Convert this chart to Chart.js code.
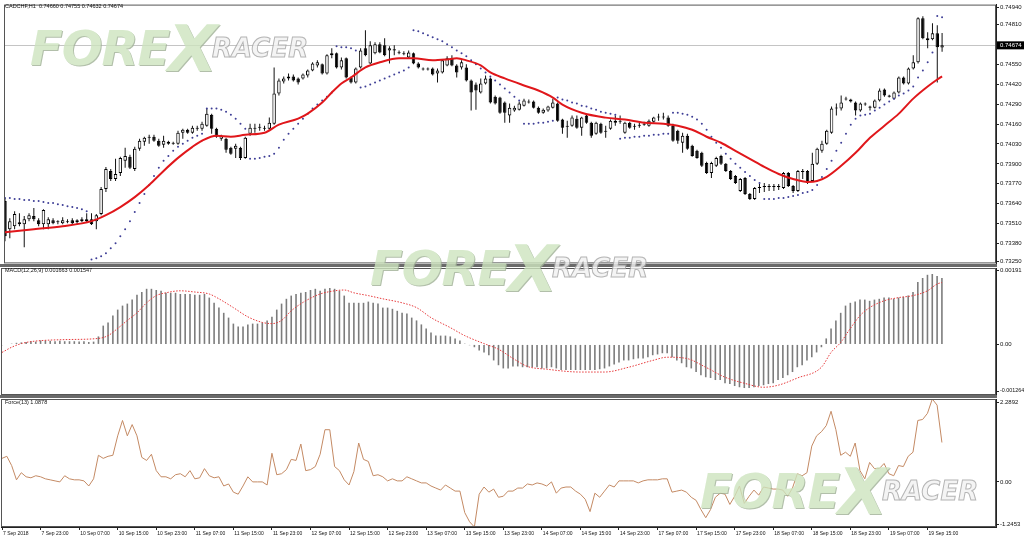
<!DOCTYPE html>
<html>
<head>
<meta charset="utf-8">
<title>CADCHF,H1</title>
<script src="https://cdn.jsdelivr.net/npm/chart.js@4.4.1/dist/chart.umd.min.js"></script>
<style>
  html, body { margin: 0; padding: 0; background: #fff; }
  #stage { position: relative; width: 1024px; height: 541px; overflow: hidden; background: #fff; font-family: "Liberation Sans", Arial, sans-serif; }
  #stage canvas { position: absolute; left: 0; }
  .cap { position: absolute; left: 5px; font-size: 5.5px; line-height: 6px; color: #111; white-space: pre; }
  .sep { position: absolute; left: 0; width: 997px; height: 3px; background: #6a6a6a; }
  .wm { position: absolute; width: 320px; height: 60px; opacity: .8; pointer-events: none;
        font-family: "DejaVu Sans", sans-serif; font-weight: bold; font-style: italic; white-space: nowrap; line-height: 1; }
  .wm span { position: absolute; top: 0; }
  .wm .fore { left: 0; font-size: 48px; color: #cde4bf; text-shadow: 1px 1px 0 #9fb095; letter-spacing: -1px; }
  .wm .ex { left: 138px; top: -7px; font-size: 64px; color: #cde4bf; text-shadow: 1px 1px 0 #9fb095; }
  .wm .racer { left: 182px; top: 10.6px; font-size: 26px; color: #f2f2f2; -webkit-text-stroke: 1px #a3a3a3; }
</style>
</head>
<body>
<div id="stage">
  <canvas id="main" width="1024" height="268" style="top:0"></canvas>
  <canvas id="macd" width="1024" height="138" style="top:262px"></canvas>
  <canvas id="force" width="1024" height="148" style="top:393px"></canvas>
  <div class="sep" style="top:264px"></div>
  <div class="sep" style="top:395px"></div>

  <div class="wm" style="left:30px;top:24px"><span class="fore">FORE</span><span class="ex">X</span><span class="racer">RACER</span></div>
  <div class="wm" style="left:370px;top:244px"><span class="fore">FORE</span><span class="ex">X</span><span class="racer">RACER</span></div>
  <div class="wm" style="left:700px;top:467px"><span class="fore">FORE</span><span class="ex">X</span><span class="racer">RACER</span></div>

  <div class="cap" style="top:3px">CADCHF,H1  0.74660 0.74755 0.74632 0.74674</div>
  <div class="cap" style="top:267px">MACD(12,26,9) 0.001663 0.001547</div>
  <div class="cap" style="top:399px">Force(13) 1.0878</div>
</div>

<script>
// ── price data, in points (0.00001) ─────────────────────────
const OPEN = [
  73657,73473,73493,73506,73506,73539,73559,73532,73506,73506,
  73532,73526,73513,73519,73532,73519,73526,73526,73539,73526,
  73572,73736,73854,73801,73841,73920,73946,73867,73998,74044,
  74070,74077,74051,74024,74044,74031,74031,74103,74123,74103,
  74136,74129,74149,74221,74129,74064,74064,74005,73998,74005,
  73939,74097,74129,74136,74136,74129,74162,74359,74438,74458,
  74471,74458,74458,74477,74510,74543,74550,74490,74609,74622,
  74530,74589,74464,74431,74530,74655,74556,74622,74681,74674,
  74641,74648,74628,74622,74595,74622,74556,74523,74517,74523,
  74490,74497,74543,74589,74543,74530,74530,74445,74418,74366,
  74425,74458,74339,74333,74300,74215,74248,74254,74280,74307,
  74307,74267,74234,74248,74267,74294,74189,74143,74149,74195,
  74136,74215,74169,74097,74162,74110,74129,74169,74182,74103,
  74169,74143,74149,74156,74149,74175,74202,74208,74202,74149,
  74116,74038,74083,74018,73985,73972,73906,73841,73887,73952,
  73900,73854,73821,73723,73808,73703,73670,73742,73749,73755,
  73749,73755,73742,73841,73755,73723,73847,73854,73788,73900,
  73985,74031,74103,74261,74261,74320,74320,74300,74248,74287,
  74274,74267,74313,74385,74346,74326,74366,74464,74425,74523,
  74563,74851,74707,74714,74753,74660
];
const HIGH = [
  73677,73545,73591,73578,73559,73578,73611,73545,73604,73552,
  73545,73532,73552,73539,73545,73539,73552,73578,73578,73572,
  73749,73880,73867,73933,73946,74005,73959,74011,74064,74077,
  74090,74090,74064,74083,74051,74044,74116,74129,74129,74149,
  74149,74175,74261,74228,74136,74090,74070,74011,74031,74011,
  74077,74162,74162,74162,74149,74202,74530,74458,74471,74490,
  74484,74464,74490,74517,74563,74576,74556,74615,74655,74628,
  74595,74595,74471,74530,74655,74773,74700,74694,74694,74720,
  74668,74674,74641,74635,74641,74628,74563,74530,74530,74530,
  74523,74582,74602,74609,74550,74576,74550,74451,74431,74458,
  74477,74464,74346,74339,74307,74294,74280,74307,74326,74320,
  74313,74274,74261,74280,74326,74300,74195,74182,74215,74215,
  74208,74228,74175,74175,74169,74149,74189,74215,74215,74175,
  74175,74162,74169,74175,74189,74208,74228,74234,74215,74162,
  74123,74103,74097,74024,73992,73979,73913,73913,73946,73959,
  73906,73860,73827,73808,73814,73710,73749,73768,73775,73768,
  73768,73768,73847,73847,73762,73860,73867,73860,73972,74005,
  74051,74123,74274,74294,74346,74339,74326,74307,74300,74300,
  74280,74320,74392,74392,74352,74372,74471,74471,74530,74609,
  74858,74864,74760,74819,74805,74755
];
const LOW = [
  73395,73414,73473,73493,73355,73526,73526,73493,73473,73473,
  73506,73506,73506,73513,73506,73506,73519,73519,73500,73473,
  73565,73716,73788,73788,73821,73874,73867,73854,73985,74018,
  74031,74044,74011,74005,74024,74024,74024,74064,74096,74096,
  74116,74116,74143,74097,74070,74051,73972,73959,73939,73926,
  73933,74083,74103,74116,74116,74123,74156,74346,74425,74445,
  74438,74418,74451,74464,74504,74530,74484,74484,74589,74523,
  74517,74458,74425,74425,74523,74602,74550,74615,74622,74602,
  74556,74609,74615,74609,74589,74550,74523,74510,74510,74477,
  74431,74490,74537,74537,74464,74517,74438,74248,74254,74359,
  74418,74294,74287,74228,74169,74169,74241,74248,74274,74294,
  74261,74228,74228,74241,74261,74175,74097,74070,74143,74129,
  74083,74162,74070,74090,74097,74070,74123,74149,74162,74097,
  74129,74123,74136,74149,74143,74169,74182,74189,74143,74044,
  74031,73972,73992,73946,73933,73880,73834,73808,73880,73893,
  73847,73795,73768,73716,73696,73664,73664,73710,73716,73723,
  73723,73729,73736,73749,73710,73716,73801,73768,73782,73893,
  73972,74024,74097,74215,74248,74313,74300,74215,74241,74280,
  74248,74261,74307,74339,74333,74320,74359,74418,74418,74517,
  74556,74714,74655,74707,74431,74632
];
const CLOSE = [
  73427,73526,73572,73519,73539,73565,73539,73506,73598,73539,
  73513,73519,73532,73526,73513,73532,73539,73539,73506,73565,
  73736,73867,73801,73834,73939,73952,73874,73998,74051,74070,
  74077,74051,74018,74051,74031,74038,74103,74123,74103,74136,
  74129,74162,74228,74129,74077,74083,73992,73966,74018,73939,
  74070,74136,74136,74143,74129,74169,74359,74445,74458,74471,
  74445,74431,74484,74510,74556,74563,74490,74609,74622,74530,
  74576,74464,74431,74523,74641,74609,74674,74681,74628,74609,
  74655,74641,74622,74615,74628,74556,74530,74517,74523,74484,
  74510,74576,74589,74543,74497,74563,74445,74366,74379,74425,
  74458,74300,74294,74234,74234,74267,74267,74294,74313,74300,
  74267,74234,74254,74274,74300,74182,74136,74149,74202,74136,
  74202,74169,74083,74169,74103,74116,74182,74182,74175,74169,
  74136,74149,74156,74162,74182,74202,74208,74202,74149,74051,
  74051,74083,73998,73952,73939,73887,73841,73906,73939,73900,
  73854,73801,73775,73801,73703,73670,73742,73749,73755,73749,
  73755,73749,73841,73755,73723,73854,73854,73775,73900,73998,
  74031,74116,74261,74267,74300,74326,74307,74248,74294,74294,
  74267,74313,74379,74346,74339,74366,74464,74425,74523,74563,
  74851,74720,74720,74753,74661,74674
];

// moving average (red), read at these bars
const MA_BARS = [0,6,12,18,21,24,27,30,33,36,39,41,44,47,50,54,57,61,63,66,68,70,72,75,78,82,85,89,92,94,
  96,99,101,104,108,111,114,116,120,125,129,133,137,140,143,146,149,152,155,158,161,164,167,169,171,174,177,180,183,186,
  189,192,194,195];
const MA_VALUES = [73453,73473,73493,73526,73565,73618,73683,73762,73854,73939,74011,74051,74083,74077,74090,74103,74156,74195,74228,74300,
  74366,74425,74464,74530,74563,74589,74589,74576,74582,74589,74576,74543,74497,74458,74412,74379,74333,74287,74234,74202,
  74189,74169,74162,74149,74123,74077,74038,73985,73933,73880,73834,73801,73782,73788,73815,73887,73972,74070,74149,74228,
  74326,74405,74451,74471];

// parabolic SAR, one dot per bar
const SAR = [
  73677,73677,73670,73670,73664,73664,73657,73657,73651,73644,
  73644,73637,73631,73624,73618,73611,73604,73591,
  73276,73283,73296,73316,73349,73382,73427,73473,73526,73585,
  73644,73703,73762,73821,73874,73920,73952,73985,74011,74031,74051,74070,74083,74097,
  74261,74261,74261,74254,74241,74221,74195,74162,74129,
  73933,73933,73939,73946,73952,73966,74005,74057,74097,74129,74162,74195,74228,74261,74287,74313,74339,74366,
  74668,74661,74661,74655,74641,
  74399,74405,74418,74431,74445,74458,74471,74484,74497,74510,74530,
  74773,74766,74753,74740,74727,74714,74700,74681,74661,74641,74622,74602,74576,74550,74523,74497,74471,74445,74418,74392,74366,74339,74313,
  74162,74162,74162,74169,74169,74175,74182,
  74333,74320,74313,74300,74294,74280,74274,74261,74254,74241,74234,74228,74221,
  74064,74070,74070,74077,74077,74083,74083,74090,74090,74097,74097,
  74234,74234,74228,74221,74208,74189,74162,74123,74077,74038,74005,73966,73933,73900,73874,73847,73821,73795,73775,
  73670,73670,73670,73677,73677,73683,73690,73696,73710,73716,73729,73762,73815,73867,73920,73985,74038,74097,74156,74195,
  74215,74221,74228,74248,74267,74287,74307,74326,74346,74359,74379,74405,74464,74510,74563,74628,
  74865,74858
];

const PRICE_TICKS = [74940,74810,74550,74420,74290,74160,74030,73900,73770,73640,73510,73380,73250];

// ── MACD(12,26,9) ──────────────────────────────────────────
const MACD_MAIN = [
  -0.00002,0,0.00002,0.00004,0.00005,0.00006,0.00008,0.00007,0.0001,0.0001,
  0.00009,0.00008,0.00009,0.00008,0.00008,0.00008,0.00007,0.00008,0.00006,0.00007,
  0.0002,0.00047,0.00055,0.00072,0.00087,0.00097,0.00102,0.00112,0.00124,0.00131,
  0.00139,0.00139,0.00136,0.00134,0.00129,0.00129,0.00129,0.00126,0.00126,0.00126,
  0.00124,0.00124,0.00126,0.00117,0.00104,0.00092,0.00079,0.00067,0.00052,0.00045,
  0.00045,0.0005,0.00052,0.00052,0.00055,0.0006,0.00069,0.00087,0.00102,0.00114,
  0.00122,0.00126,0.00129,0.00131,0.00136,0.00139,0.00134,0.00139,0.00141,0.00139,
  0.00134,0.00122,0.00104,0.00104,0.00104,0.00104,0.00107,0.00104,0.00102,0.00092,
  0.00092,0.00089,0.00084,0.00079,0.00077,0.00067,0.0006,0.0005,0.0004,0.0003,
  0.00022,0.00022,0.00022,0.0002,0.00015,0.0001,0.00002,-0.00002,-0.00007,-0.00015,
  -0.0002,-0.00027,-0.0004,-0.00052,-0.0006,-0.0006,-0.00055,-0.00055,-0.00057,-0.00057,
  -0.00057,-0.00057,-0.0006,-0.0006,-0.00057,-0.0006,-0.00064,-0.00064,-0.00064,-0.00064,
  -0.00064,-0.00064,-0.00064,-0.00064,-0.00062,-0.0006,-0.00055,-0.0005,-0.00045,-0.0004,
  -0.0004,-0.00037,-0.00035,-0.00035,-0.00032,-0.00027,-0.00025,-0.00022,-0.00022,-0.00032,
  -0.0004,-0.00047,-0.00057,-0.0006,-0.00069,-0.00077,-0.00082,-0.00084,-0.00089,-0.00089,
  -0.00097,-0.00099,-0.00104,-0.00107,-0.00109,-0.00109,-0.00107,-0.00104,-0.00102,-0.00099,
  -0.00097,-0.00089,-0.00084,-0.00077,-0.00069,-0.00057,-0.00052,-0.0004,-0.00032,-0.0002,
  -0.00007,0.00015,0.0004,0.0006,0.00079,0.00097,0.00104,0.00107,0.00112,0.00112,
  0.00109,0.00112,0.00114,0.00117,0.00117,0.00114,0.00117,0.00119,0.00122,0.00131,
  0.00156,0.00166,0.00174,0.00176,0.00171,0.001663
];
const SIGNAL_BARS = [0,2,4,6,13,20,22,24,26,28,30,32,34,37,40,43,45,48,51,54,56,58,60,63,66,69,71,73,76,79,
  83,86,89,93,96,100,103,106,109,113,120,125,130,135,138,142,146,150,154,158,161,165,170,172,174,176,178,180,183,186,
  189,192,194,195];
const SIGNAL_VALUES = [-0.0002,-0.00007,0.00002,0.00007,0.00012,0.00015,0.00022,0.0004,0.0006,0.00079,
  0.00104,0.00122,0.00129,0.00134,0.00131,0.00126,0.00114,0.00092,0.00069,0.00055,
  0.00052,0.0006,0.00084,0.00109,0.00126,0.00134,0.00136,0.00129,0.00122,0.00114,
  0.00104,0.00092,0.00067,0.00042,0.00022,0.00002,-0.00012,-0.00035,-0.00055,-0.00062,
  -0.00069,-0.00069,-0.00057,-0.0004,-0.00032,-0.00035,-0.00057,-0.00082,-0.00097,-0.00107,
  -0.00102,-0.00084,-0.00057,-0.0002,0.00005,0.0004,0.00072,0.00092,0.00109,0.00117,
  0.00122,0.00134,0.00151,0.001547];
const MACD_TICKS = [0.00191, 0, -0.001264];

// ── Force(13) ──────────────────────────────────────────────
const FORCE = [
  0.650,0.707,0.452,0.057,0.254,0.141,0.113,0.170,0.141,0.085,
  0.057,0.028,0,0.170,0.085,0.057,0.057,0.028,-0.113,0.085,
  0.735,0.650,0.707,0.735,1.272,1.696,1.272,1.583,1.272,0.678,
  0.593,0.763,0.311,0.141,0.141,0.085,0.198,0.226,0.141,0.311,
  0.085,0.113,0.367,0.170,0.113,0.141,-0.113,-0.057,-0.283,-0.339,
  -0.113,0.141,0,0,0,-0.085,0.791,0.198,0.226,0.339,
  0.622,0.593,1.046,0.311,0.339,0.424,0.763,1.441,1.441,0.424,
  0.311,0.057,-0.085,0.283,1.074,0.622,0.565,0.170,0.198,0.141,
  0.028,0.085,0.028,0.028,0.141,0.085,0.028,-0.028,-0.028,-0.113,
  -0.170,-0.226,-0.085,-0.170,-0.254,-0.254,-0.848,-1.100,-1.2453,-0.339,
  -0.141,-0.283,-0.198,-0.424,-0.396,-0.254,-0.254,-0.170,-0.170,-0.057,
  -0.085,-0.028,-0.057,-0.113,0,-0.311,-0.170,-0.141,-0.141,-0.254,
  -0.339,-0.480,-0.820,-0.311,-0.424,-0.254,-0.085,-0.141,0.028,0.028,
  0.028,0.028,-0.028,0.028,0.057,0.057,0.057,0.085,0.085,-0.283,
  -0.254,-0.226,-0.283,-0.424,-0.509,-0.763,-0.989,-0.763,-0.424,-0.311,
  -0.339,-0.622,-0.396,-0.113,-0.593,-0.396,-0.226,-0.367,-0.141,-0.170,
  -0.198,-0.198,-0.226,-0.396,-0.170,0.226,0.170,0.254,0.989,1.272,
  1.385,1.554,1.950,1.441,0.735,0.820,0.707,1.074,0.311,0.085,
  0.537,0.367,0.367,0.509,0.226,0.170,0.452,0.424,0.707,0.820,
  1.696,1.724,1.893,2.2892,2.120,1.0878
];
const FORCE_TICKS = [2.2892, 0, -1.2453];

// time axis: one label every 8 hourly bars
const TIME_BARS = [0,8,16,24,32,40,48,56,64,72,80,88,96,104,112,120,128,136,144,152,160,168,176,184,192];
const TIME_LABELS = ['7 Sep 2018','7 Sep 23:00','10 Sep 07:00','10 Sep 15:00','10 Sep 23:00','11 Sep 07:00','11 Sep 15:00',
  '11 Sep 23:00','12 Sep 07:00','12 Sep 15:00','12 Sep 23:00','13 Sep 07:00','13 Sep 15:00','13 Sep 23:00','14 Sep 07:00',
  '14 Sep 15:00','14 Sep 23:00','17 Sep 07:00','17 Sep 15:00','17 Sep 23:00','18 Sep 07:00','18 Sep 15:00','18 Sep 23:00',
  '19 Sep 07:00','19 Sep 15:00'];

// ── setup ───────────────────────────────────────────────────
Chart.defaults.font.family = '"Liberation Sans", Arial, sans-serif';
Chart.defaults.animation = false;
Chart.defaults.plugins.legend.display = false;
Chart.defaults.plugins.tooltip.enabled = false;

const X_MIN = -0.21, X_MAX = 206.22;   // ~4.82px per bar, chart shifted from right edge
const BARS = OPEN.map((_, i) => i);
const LAST = CLOSE[CLOSE.length - 1];

const frame = {
  id: 'frame',
  afterDraw(chart) {
    const { ctx, chartArea: a } = chart;
    ctx.save();
    ctx.strokeStyle = '#555';
    ctx.lineWidth = 1;
    ctx.strokeRect(a.left + 0.5, a.top + 0.5, a.right - a.left - 1, a.bottom - a.top - 1);
    ctx.restore();
  }
};

const lastPrice = {
  id: 'lastPrice',
  beforeDatasetsDraw(chart) {
    const { ctx, chartArea: a, scales: { y } } = chart;
    const py = Math.round(y.getPixelForValue(LAST)) + 0.5;
    ctx.save();
    ctx.strokeStyle = '#c4c4c4';
    ctx.lineWidth = 1;
    ctx.beginPath(); ctx.moveTo(a.left, py); ctx.lineTo(a.right, py); ctx.stroke();
    ctx.restore();
  },
  afterDraw(chart) {
    const { ctx, chartArea: a, scales: { y } } = chart;
    const py = y.getPixelForValue(LAST);
    ctx.save();
    ctx.fillStyle = '#000';
    ctx.fillRect(a.right + 1, py - 4, 27, 8);
    ctx.fillStyle = '#fff';
    ctx.font = '6px "Liberation Sans", Arial';
    ctx.textBaseline = 'middle';
    ctx.fillText('0.' + LAST, a.right + 4, py + 0.5);
    ctx.restore();
  }
};

// MT4 keeps the top and bottom labels just inside the window,
// so the edge ticks are nudged in by a few pixels (areaH = window height)
function rightAxis(min, max, ticks, fmt, areaH, inTop, inBottom) {
  const per = (max - min) / areaH;
  return {
    position: 'right', min, max, beginAtZero: false,
    afterFit: s => { s.width = 28; },
    afterBuildTicks: s => {
      s.ticks = ticks.map(v => ({ value: v === max ? v - inTop * per : v === min ? v + inBottom * per : v }));
    },
    ticks: {
      autoSkip: false, padding: 1, color: '#111',
      font: c => ({ size: String(c.tick && c.tick.label).length > 8 ? 5.4 : 6 }),
      callback: (v, i) => fmt(ticks[i])
    },
    grid: { drawOnChartArea: false, drawTicks: true, tickLength: 3, color: '#222' },
    border: { display: true, color: '#222' }
  };
}
const hiddenX = () => ({ type: 'linear', min: X_MIN, max: X_MAX, offset: false, display: false });
const zeroFmt = v => v === 0 ? '0.00' : String(v);

// main price window
new Chart(document.getElementById('main'), {
  type: 'bar',
  data: {
    datasets: [
      { type: 'line', data: MA_BARS.map((b, k) => ({ x: b, y: MA_VALUES[k] })),
        borderColor: '#e0171b', borderWidth: 2, pointRadius: 0, cubicInterpolationMode: 'monotone', order: 0 },
      { type: 'line', data: BARS.map(i => ({ x: i, y: SAR[i] })), showLine: false,
        pointRadius: 1, pointBackgroundColor: '#3e3e96', pointBorderWidth: 0, order: 0 },
      { data: BARS.map(i => ({ x: i, y: [Math.min(OPEN[i], CLOSE[i]), Math.max(OPEN[i], CLOSE[i])] })),
        backgroundColor: BARS.map(i => CLOSE[i] >= OPEN[i] ? '#ffffff' : '#000000'),
        borderColor: '#000', borderWidth: 1, borderSkipped: false, grouped: false,
        maxBarThickness: 3.6, minBarLength: 1, order: 1 },
      { data: BARS.map(i => ({ x: i, y: [LOW[i], HIGH[i]] })),
        backgroundColor: '#111', borderWidth: 0, grouped: false, maxBarThickness: 1, order: 2 }
    ]
  },
  options: {
    responsive: false, devicePixelRatio: 1,
    layout: { padding: { top: 2, bottom: 4, left: 1, right: 0 } },
    scales: {
      x: hiddenX(),
      y: rightAxis(73250, 74940, PRICE_TICKS, v => '0.' + v, 262, 2.5, 2)
    }
  },
  plugins: [lastPrice, frame]
});

// MACD window
new Chart(document.getElementById('macd'), {
  type: 'bar',
  data: {
    datasets: [
      { type: 'line', data: SIGNAL_BARS.map((b, k) => ({ x: b, y: SIGNAL_VALUES[k] })),
        borderColor: '#e6383a', borderWidth: 1, borderDash: [1.5, 1.5], pointRadius: 0,
        cubicInterpolationMode: 'monotone', order: 0 },
      { data: BARS.map(i => ({ x: i, y: MACD_MAIN[i] })), backgroundColor: '#7c7c7c',
        borderWidth: 0, grouped: false, maxBarThickness: 1.6, order: 1 }
    ]
  },
  options: {
    responsive: false, devicePixelRatio: 1,
    layout: { padding: { top: 6, bottom: 5, left: 1, right: 0 } },
    scales: {
      x: hiddenX(),
      y: rightAxis(-0.001264, 0.00191, MACD_TICKS, zeroFmt, 127, 2.5, 4)
    }
  },
  plugins: [frame]
});

// Force window with the time axis
new Chart(document.getElementById('force'), {
  type: 'line',
  data: {
    datasets: [
      { data: BARS.map(i => ({ x: i, y: FORCE[i] })), borderColor: '#c48a64', borderWidth: 1,
        pointRadius: 0, tension: 0 }
    ]
  },
  options: {
    responsive: false, devicePixelRatio: 1,
    layout: { padding: { top: 6, bottom: 0, left: 1, right: 0 } },
    scales: {
      x: {
        type: 'linear', min: X_MIN, max: X_MAX, offset: false, position: 'bottom',
        afterFit: s => { s.height = 14; },
        afterBuildTicks: s => { s.ticks = TIME_BARS.map(v => ({ value: v })); },
        ticks: { autoSkip: false, maxRotation: 0, align: 'start', padding: 1, labelOffset: 1,
                 color: '#111', font: { size: 5 }, callback: v => TIME_LABELS[TIME_BARS.indexOf(v)] },
        grid: { drawOnChartArea: false, tickLength: 3, color: '#222' },
        border: { display: true, color: '#222' }
      },
      y: rightAxis(-1.2453, 2.2892, FORCE_TICKS, zeroFmt, 128, 3, 3)
    }
  },
  plugins: [frame]
});
</script>
</body>
</html>
